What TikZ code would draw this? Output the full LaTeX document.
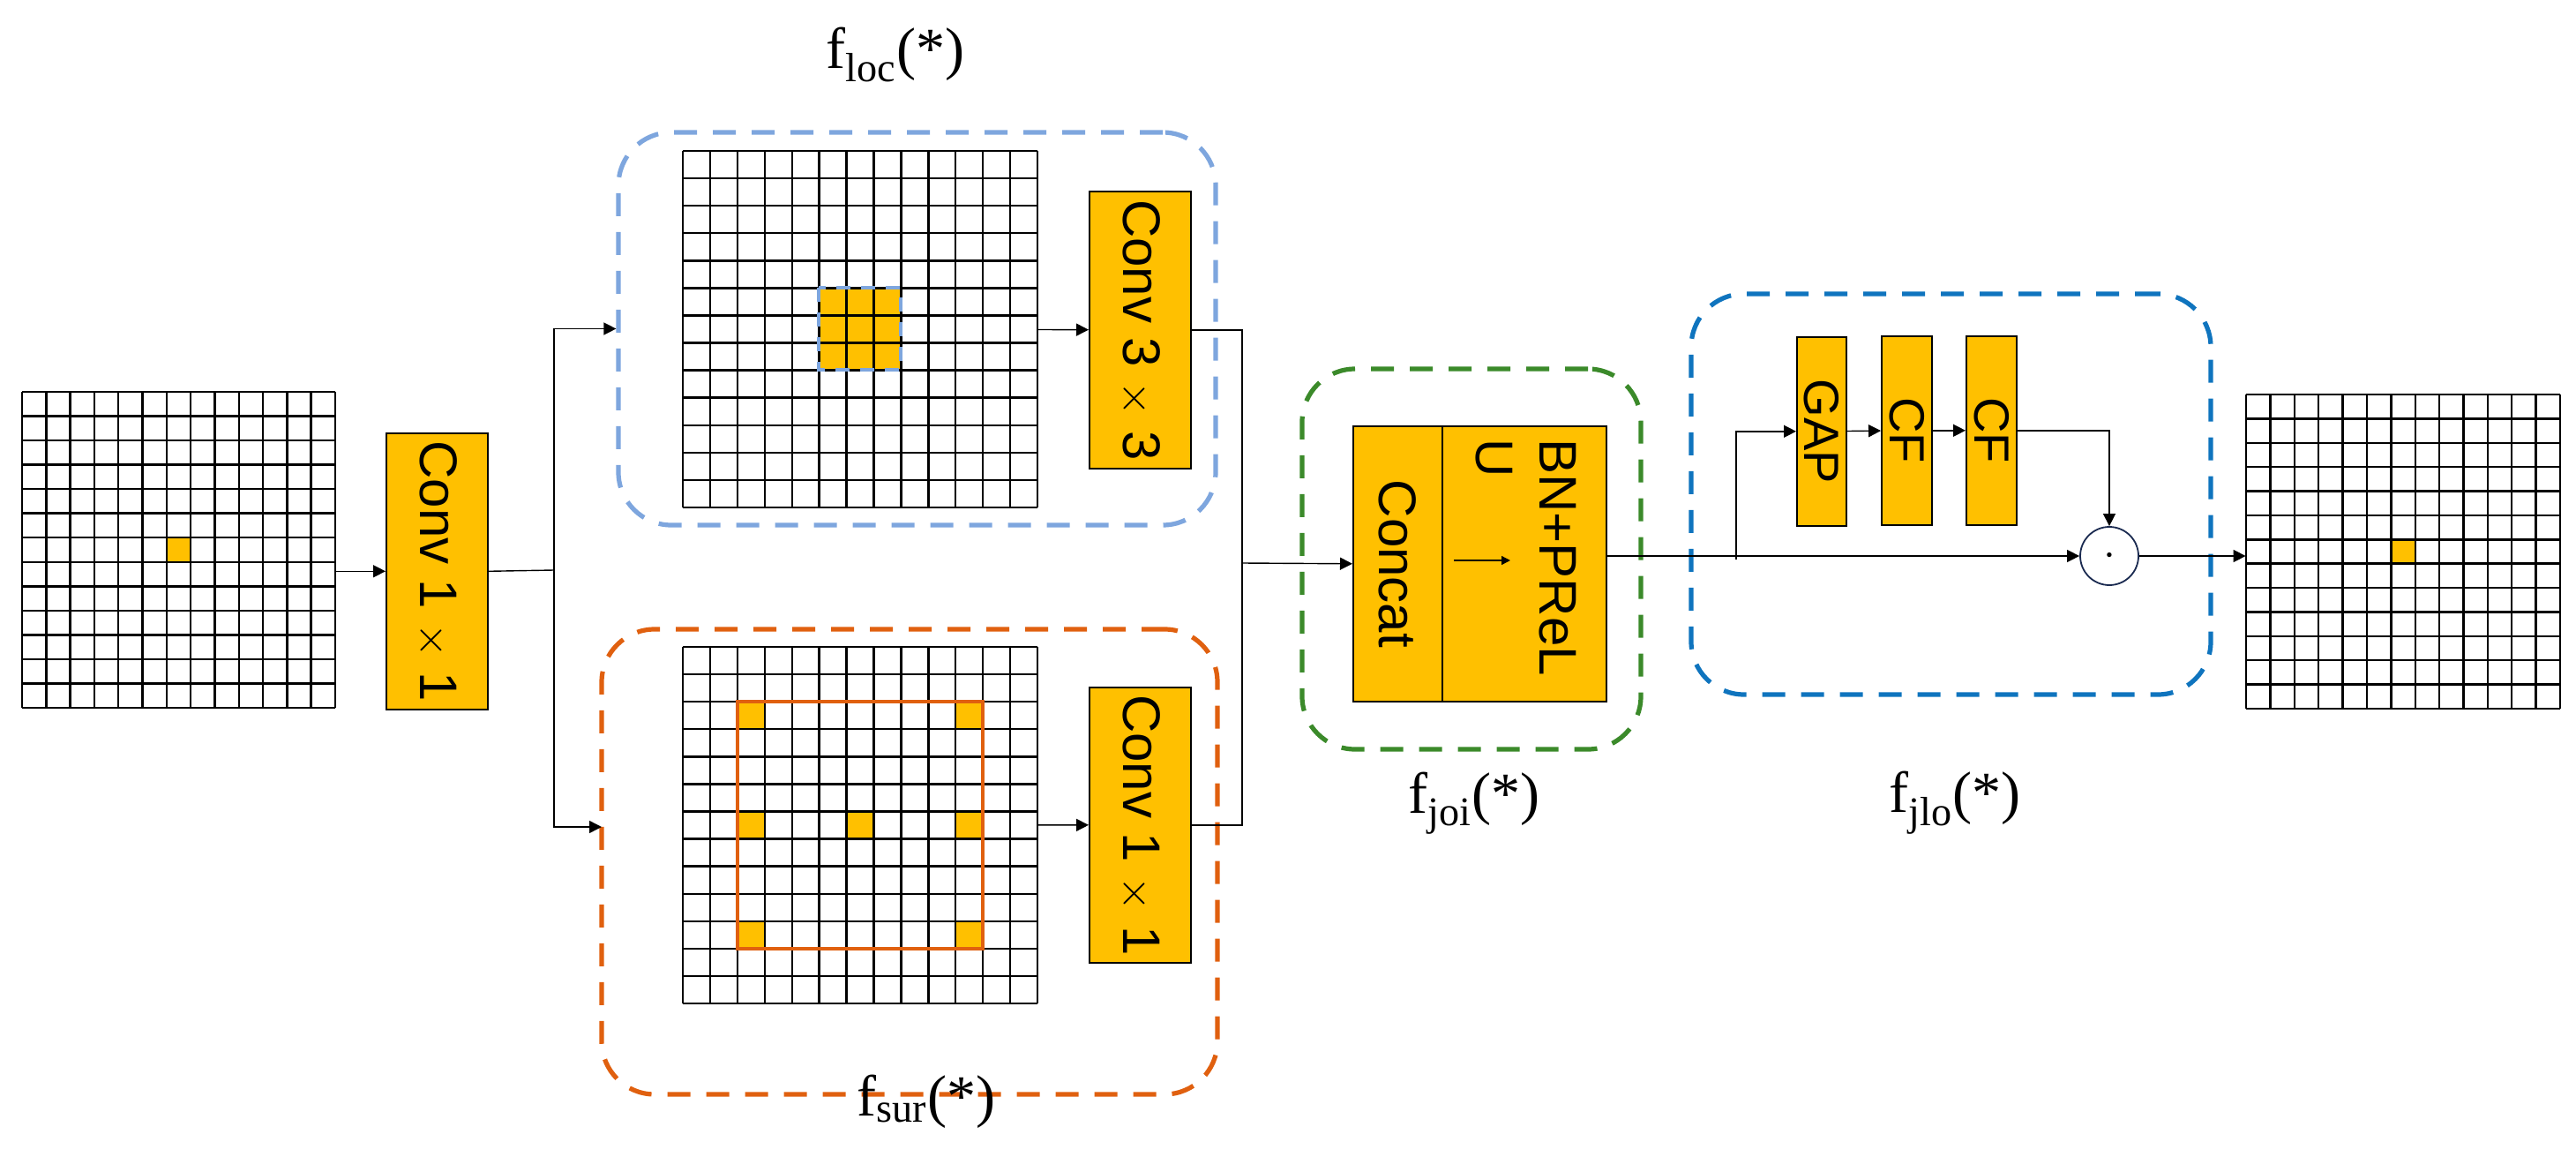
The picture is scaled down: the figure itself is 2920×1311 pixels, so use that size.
\documentclass[tikz,border=0pt]{standalone}
\usepackage{fontspec}
\setmainfont{Liberation Serif}
\newfontfamily\sansf{Liberation Sans}
\usetikzlibrary{arrows.meta,fit,calc}
\definecolor{yel}{HTML}{FFC000}
\definecolor{lblue}{HTML}{7EA6DE}
\definecolor{dorange}{HTML}{E0600F}
\definecolor{dgreen}{HTML}{3B8A2A}
\definecolor{dblue}{HTML}{0F74BE}
\definecolor{cnavy}{HTML}{1A2A50}
\newcommand\mkgrid[6]{%
 \pgfmathsetmacro\cw{(#4-#2)/13}\pgfmathsetmacro\ch{(#5-#3)/13}%
 \foreach \c/\r in {#6}{\fill[yel] ({#2+\c*\cw},{#3+\r*\ch}) rectangle ++(\cw,\ch);}%
 \foreach \i in {0,...,13}{\draw[gridline] ({#2+\i*\cw},#3) -- ({#2+\i*\cw},#5); \draw[gridline] (#2,{#3+\i*\ch}) -- (#4,{#3+\i*\ch});}%
 \node[fit={(#2,#3)(#4,#5)},inner sep=0pt] (#1) {};%
}
\begin{document}
\begin{tikzpicture}[x=0.5pt,y=-0.5pt,
 gridline/.style={line width=1.2pt,black},
 blk/.style={draw=black,line width=0.8pt,fill=yel,inner sep=0pt,anchor=north west,font=\sansf\fontsize{30}{34}\selectfont},
 vt/.style={rotate=-90},
 line/.style={line width=0.7pt,black},
 arr/.style={line,-{Triangle[length=7pt,width=7pt]}},
 sarr/.style={line,-{Triangle[length=5pt,width=5pt]}},
 grp/.style={line width=2.6pt,dash pattern=on 13pt off 9pt,rounded corners=30pt},
 lab/.style={font=\fontsize{33}{38}\selectfont}]
\useasboundingbox (0,0) rectangle (2920,1311);

% grids
\mkgrid{g1}{25}{444}{380}{802}{6/6}
\mkgrid{g2}{774}{171}{1176}{575}{5/5,6/5,7/5,5/6,6/6,7/6,5/7,6/7,7/7}
\mkgrid{g3}{774}{733}{1176}{1137}{2/2,10/2,2/6,6/6,10/6,2/10,10/10}
\mkgrid{g4}{2546}{447}{2902}{803}{6/6}
% re-draw grid lines over yellow (done in macro order already)
\draw[lblue,line width=2.2pt,dash pattern=on 8pt off 6pt] (928,326) rectangle (1021,419);
\draw[dorange,line width=2.2pt] (836,795) rectangle (1114,1075);

% group boxes
\node[grp,draw=lblue,fit={(701,150)(1378,595)},inner sep=0pt] (loc) {};
\node[grp,draw=dorange,fit={(682,713)(1380,1240)},inner sep=0pt] (sur) {};
\node[grp,draw=dgreen,fit={(1476,418)(1860,849)},inner sep=0pt] (joi) {};
\node[grp,draw=dblue,fit={(1917,333)(2506,787)},inner sep=0pt] (jlo) {};

% blocks
\node[blk,minimum width=57.5pt,minimum height=156.5pt] (c1) at (437,490) {};
\node[vt,font=\sansf\fontsize{30}{34}\selectfont] at (c1) {Conv 1 $\times$ 1};
\node[blk,minimum width=57.5pt,minimum height=157pt] (c3) at (1234,216) {};
\node[vt,font=\sansf\fontsize{30}{34}\selectfont] at (c3) {Conv 3 $\times$ 3};
\node[blk,minimum width=57.5pt,minimum height=156pt] (c5) at (1234,778) {};
\node[vt,font=\sansf\fontsize{30}{34}\selectfont] at (c5) {Conv 1 $\times$ 1};
\node[blk,minimum width=50.5pt,minimum height=156pt] (cc) at (1533,482) {};
\node[vt,font=\sansf\fontsize{30}{34}\selectfont] at (cc) {Concat};
\node[blk,minimum width=93pt,minimum height=156pt] (bn) at (1634,482) {};
\node[vt,anchor=north west,align=left,inner sep=0pt,font=\sansf\fontsize{30}{36}\selectfont] (bnt) at (1787,497) {BN+PReL\\U};
\node[blk,minimum width=28pt,minimum height=107pt] (gap) at (2036,381) {};
\node[vt,font=\sansf\fontsize{28}{32}\selectfont] at (gap) {GAP};
\node[blk,minimum width=28.5pt,minimum height=107pt] (cf1) at (2132,380) {};
\node[vt,font=\sansf\fontsize{28}{32}\selectfont] at (cf1) {CF};
\node[blk,minimum width=28.5pt,minimum height=107pt] (cf2) at (2228,380) {};
\node[vt,font=\sansf\fontsize{28}{32}\selectfont] at (cf2) {CF};
\node[draw=cnavy,line width=0.9pt,circle,minimum size=33pt,inner sep=0pt,fill=white,font=\sansf\bfseries\fontsize{30}{30}\selectfont] (od) at (2391,630) {$\cdot$};

% connectors
\coordinate (br) at (628,646);
\coordinate (surin) at (682,937);
\coordinate (jn) at (1408,638);
\coordinate (ia) at (1648,635);
\coordinate (ib) at (1712,635);
\coordinate (b2) at (1968,634);
\draw[arr] (g1.east |- c1.west) -- (c1.west);
\draw[line] (c1.east) -- (br);
\draw[arr] (br) |- (loc.west);
\draw[arr] (br) |- (surin);
\draw[arr] (g2) -- (c3);
\draw[arr] (g3) -- (c5);
\draw[line] (c3.east) -| (jn);
\draw[line] (c5.east) -| (jn);
\draw[arr] (jn) -- (cc.west);
\draw[sarr] (ia) -- (ib);
\draw[arr] (bn.east |- od.west) -- (od.west);
\draw[arr] (b2) |- (gap.west);
\draw[arr] (gap) -- (cf1);
\draw[arr] (cf1) -- (cf2);
\draw[arr] (cf2.east) -| (od.north);
\draw[arr] (od.east) -- (od.east -| g4.west);

% labels
\node[lab] (lloc) at (1015,62) {f\textsubscript{loc}(*)};
\node[lab] (lsur) at (1050,1248) {f\textsubscript{sur}(*)};
\node[lab] (ljoi) at (1671,910) {f\textsubscript{joi}(*)};
\node[lab] (ljlo) at (2216,910) {f\textsubscript{jlo}(*)};
\end{tikzpicture}
\end{document}
